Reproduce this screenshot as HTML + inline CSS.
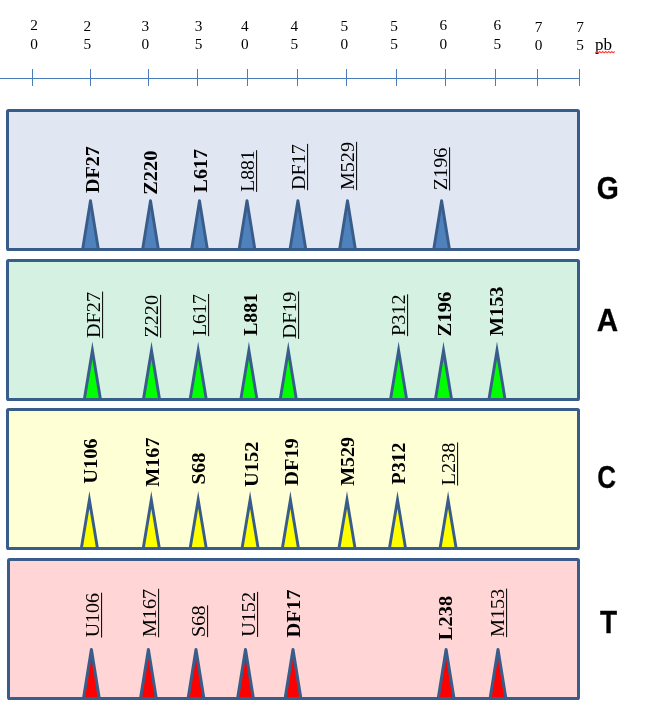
<!DOCTYPE html>
<html><head><meta charset="utf-8"><title>pb</title><style>
html,body{margin:0;padding:0;background:#fff;width:645px;height:723px;overflow:hidden}
svg{display:block}
.ax{font-family:"Liberation Serif",serif;font-size:15.3px;fill:#000}
.pb{font-family:"Liberation Serif",serif;font-size:17px;fill:#000}
.lb{font-family:"Liberation Serif",serif;font-weight:bold;fill:#000}
.lr{font-family:"Liberation Serif",serif;fill:#000}
.big{font-family:"Liberation Sans",sans-serif;font-weight:bold;fill:#000;stroke:#000;stroke-width:0.3px}
</style></head><body>
<svg width="645" height="723" viewBox="0 0 645 723">
<rect x="7.5" y="110.5" width="571" height="139" fill="#E0E6F2" stroke="#385D8A" stroke-width="3" rx="1"/>
<rect x="7.5" y="260.5" width="571" height="139" fill="#D5F1E1" stroke="#385D8A" stroke-width="3" rx="1"/>
<rect x="7.5" y="409.5" width="571" height="139" fill="#FFFFD5" stroke="#385D8A" stroke-width="3" rx="1"/>
<rect x="8.5" y="559.5" width="570" height="139" fill="#FFD5D5" stroke="#385D8A" stroke-width="3" rx="1"/>
<path d="M0 78.5H579.5" stroke="#4A7EBB" stroke-width="1" fill="none"/>
<path d="M32.5 69V86M90.5 69V86M148.5 69V86M197.5 69V86M247.5 69V86M297.5 69V86M346.5 69V86M396.5 69V86M445.5 69V86M495.5 69V86M537.5 69V86M579.5 69V86" stroke="#4A7EBB" stroke-width="1" fill="none"/>
<text x="30.20" y="29.64" class="ax">2</text>
<text x="30.20" y="48.64" class="ax">0</text>
<text x="83.60" y="31.14" class="ax">2</text>
<text x="83.60" y="49.24" class="ax">5</text>
<text x="141.50" y="30.64" class="ax">3</text>
<text x="141.50" y="49.24" class="ax">0</text>
<text x="194.80" y="30.64" class="ax">3</text>
<text x="194.80" y="49.24" class="ax">5</text>
<text x="240.90" y="30.64" class="ax">4</text>
<text x="240.90" y="49.24" class="ax">0</text>
<text x="290.50" y="30.64" class="ax">4</text>
<text x="290.50" y="49.24" class="ax">5</text>
<text x="340.60" y="30.64" class="ax">5</text>
<text x="340.60" y="49.24" class="ax">0</text>
<text x="390.20" y="30.64" class="ax">5</text>
<text x="390.20" y="49.24" class="ax">5</text>
<text x="439.60" y="30.44" class="ax">6</text>
<text x="439.60" y="49.24" class="ax">0</text>
<text x="493.60" y="30.44" class="ax">6</text>
<text x="493.60" y="49.24" class="ax">5</text>
<text x="534.80" y="31.54" class="ax">7</text>
<text x="534.80" y="50.44" class="ax">0</text>
<text x="576.20" y="31.54" class="ax">7</text>
<text x="576.20" y="50.44" class="ax">5</text>
<text x="595" y="50.3" class="pb">pb</text>
<polyline points="595.2,52.9 596.7,51.5 598.2,52.9 599.7,51.5 601.2,52.9 602.7,51.5 604.2,52.9 605.7,51.5 607.2,52.9 608.7,51.5 610.2,52.9 611.7,51.5 613.2,52.9 614.7,51.5" fill="none" stroke="#FF3C3C" stroke-width="1.05"/>
<polygon points="82.60,249.5 90.50,200.75 98.40,249.5" fill="#4F81BD" stroke="#385D8A" stroke-width="2.9" stroke-linejoin="round" stroke-miterlimit="40"/>
<polygon points="142.60,249.5 150.50,200.75 158.40,249.5" fill="#4F81BD" stroke="#385D8A" stroke-width="2.9" stroke-linejoin="round" stroke-miterlimit="40"/>
<polygon points="191.60,249.5 199.50,200.75 207.40,249.5" fill="#4F81BD" stroke="#385D8A" stroke-width="2.9" stroke-linejoin="round" stroke-miterlimit="40"/>
<polygon points="239.10,249.5 247.00,200.75 254.90,249.5" fill="#4F81BD" stroke="#385D8A" stroke-width="2.9" stroke-linejoin="round" stroke-miterlimit="40"/>
<polygon points="290.00,249.5 297.90,200.75 305.80,249.5" fill="#4F81BD" stroke="#385D8A" stroke-width="2.9" stroke-linejoin="round" stroke-miterlimit="40"/>
<polygon points="339.60,249.5 347.50,200.75 355.40,249.5" fill="#4F81BD" stroke="#385D8A" stroke-width="2.9" stroke-linejoin="round" stroke-miterlimit="40"/>
<polygon points="433.70,249.5 441.60,200.75 449.50,249.5" fill="#4F81BD" stroke="#385D8A" stroke-width="2.9" stroke-linejoin="round" stroke-miterlimit="40"/>
<polygon points="84.30,399.5 92.40,350.49 100.50,399.5" fill="#00FF00" stroke="#385D8A" stroke-width="2.9" stroke-linejoin="miter" stroke-miterlimit="40"/>
<polygon points="143.40,399.5 151.50,350.49 159.60,399.5" fill="#00FF00" stroke="#385D8A" stroke-width="2.9" stroke-linejoin="miter" stroke-miterlimit="40"/>
<polygon points="190.10,399.5 198.20,350.49 206.30,399.5" fill="#00FF00" stroke="#385D8A" stroke-width="2.9" stroke-linejoin="miter" stroke-miterlimit="40"/>
<polygon points="240.80,399.5 248.90,350.49 257.00,399.5" fill="#00FF00" stroke="#385D8A" stroke-width="2.9" stroke-linejoin="miter" stroke-miterlimit="40"/>
<polygon points="280.20,399.5 288.30,350.49 296.40,399.5" fill="#00FF00" stroke="#385D8A" stroke-width="2.9" stroke-linejoin="miter" stroke-miterlimit="40"/>
<polygon points="390.50,399.5 398.60,350.49 406.70,399.5" fill="#00FF00" stroke="#385D8A" stroke-width="2.9" stroke-linejoin="miter" stroke-miterlimit="40"/>
<polygon points="435.40,399.5 443.50,350.49 451.60,399.5" fill="#00FF00" stroke="#385D8A" stroke-width="2.9" stroke-linejoin="miter" stroke-miterlimit="40"/>
<polygon points="488.90,399.5 497.00,350.49 505.10,399.5" fill="#00FF00" stroke="#385D8A" stroke-width="2.9" stroke-linejoin="miter" stroke-miterlimit="40"/>
<polygon points="81.30,548.5 89.40,499.83 97.50,548.5" fill="#FFFF00" stroke="#385D8A" stroke-width="2.9" stroke-linejoin="miter" stroke-miterlimit="40"/>
<polygon points="143.20,548.5 151.30,499.83 159.40,548.5" fill="#FFFF00" stroke="#385D8A" stroke-width="2.9" stroke-linejoin="miter" stroke-miterlimit="40"/>
<polygon points="190.10,548.5 198.20,499.83 206.30,548.5" fill="#FFFF00" stroke="#385D8A" stroke-width="2.9" stroke-linejoin="miter" stroke-miterlimit="40"/>
<polygon points="242.00,548.5 250.10,499.83 258.20,548.5" fill="#FFFF00" stroke="#385D8A" stroke-width="2.9" stroke-linejoin="miter" stroke-miterlimit="40"/>
<polygon points="282.30,548.5 290.40,499.83 298.50,548.5" fill="#FFFF00" stroke="#385D8A" stroke-width="2.9" stroke-linejoin="miter" stroke-miterlimit="40"/>
<polygon points="338.90,548.5 347.00,499.83 355.10,548.5" fill="#FFFF00" stroke="#385D8A" stroke-width="2.9" stroke-linejoin="miter" stroke-miterlimit="40"/>
<polygon points="389.40,548.5 397.50,499.83 405.60,548.5" fill="#FFFF00" stroke="#385D8A" stroke-width="2.9" stroke-linejoin="miter" stroke-miterlimit="40"/>
<polygon points="440.00,548.5 448.10,499.83 456.20,548.5" fill="#FFFF00" stroke="#385D8A" stroke-width="2.9" stroke-linejoin="miter" stroke-miterlimit="40"/>
<polygon points="83.50,698.5 91.40,649.50 99.30,698.5" fill="#FF0000" stroke="#385D8A" stroke-width="3.0" stroke-linejoin="round" stroke-miterlimit="40"/>
<polygon points="140.50,698.5 148.40,649.50 156.30,698.5" fill="#FF0000" stroke="#385D8A" stroke-width="3.0" stroke-linejoin="round" stroke-miterlimit="40"/>
<polygon points="188.10,698.5 196.00,649.50 203.90,698.5" fill="#FF0000" stroke="#385D8A" stroke-width="3.0" stroke-linejoin="round" stroke-miterlimit="40"/>
<polygon points="237.60,698.5 245.50,649.50 253.40,698.5" fill="#FF0000" stroke="#385D8A" stroke-width="3.0" stroke-linejoin="round" stroke-miterlimit="40"/>
<polygon points="285.10,698.5 293.00,649.50 300.90,698.5" fill="#FF0000" stroke="#385D8A" stroke-width="3.0" stroke-linejoin="round" stroke-miterlimit="40"/>
<polygon points="438.20,698.5 446.10,649.50 454.00,698.5" fill="#FF0000" stroke="#385D8A" stroke-width="3.0" stroke-linejoin="round" stroke-miterlimit="40"/>
<polygon points="490.10,698.5 498.00,649.50 505.90,698.5" fill="#FF0000" stroke="#385D8A" stroke-width="3.0" stroke-linejoin="round" stroke-miterlimit="40"/>
<path d="M7 249.5H579" stroke="#385D8A" stroke-width="3"/>
<path d="M7 399.5H579" stroke="#385D8A" stroke-width="3"/>
<path d="M7 548.5H579" stroke="#385D8A" stroke-width="3"/>
<path d="M8 698.5H579" stroke="#385D8A" stroke-width="3"/>
<text transform="translate(99,192.88) scale(0.95,1) rotate(-90)" class="lb" style="font-size:20.06px">DF27</text>
<text transform="translate(157,194.80) scale(0.95,1) rotate(-90)" class="lb" style="font-size:20.48px">Z220</text>
<text transform="translate(207,192.48) scale(0.95,1) rotate(-90)" class="lb" style="font-size:20.12px">L617</text>
<text transform="translate(254,191.71) scale(0.95,1) rotate(-90)" class="lr" style="font-size:19.59px">L881</text>
<path d="M256.60 191.91V150.16" stroke="#000" stroke-width="1" fill="none"/>
<text transform="translate(305,190.04) scale(0.95,1) rotate(-90)" class="lr" style="font-size:20.18px">DF17</text>
<path d="M307.60 190.24V143.86" stroke="#000" stroke-width="1" fill="none"/>
<text transform="translate(354,190.04) scale(0.95,1) rotate(-90)" class="lr" style="font-size:20.09px">M529</text>
<path d="M356.60 190.24V141.84" stroke="#000" stroke-width="1" fill="none"/>
<text transform="translate(447,190.26) scale(0.95,1) rotate(-90)" class="lr" style="font-size:20.25px">Z196</text>
<path d="M449.60 190.46V147.32" stroke="#000" stroke-width="1" fill="none"/>
<text transform="translate(100,338.11) scale(0.95,1) rotate(-90)" class="lr" style="font-size:20.32px">DF27</text>
<path d="M102.60 338.31V291.61" stroke="#000" stroke-width="1" fill="none"/>
<text transform="translate(158,337.51) scale(0.95,1) rotate(-90)" class="lr" style="font-size:20.12px">Z220</text>
<path d="M160.60 337.71V294.84" stroke="#000" stroke-width="1" fill="none"/>
<text transform="translate(206,335.99) scale(0.95,1) rotate(-90)" class="lr" style="font-size:19.81px">L617</text>
<path d="M208.60 336.19V293.97" stroke="#000" stroke-width="1" fill="none"/>
<text transform="translate(257,335.86) scale(0.95,1) rotate(-90)" class="lb" style="font-size:19.78px">L881</text>
<text transform="translate(296,338.71) scale(0.95,1) rotate(-90)" class="lr" style="font-size:20.65px">DF19</text>
<path d="M298.60 338.91V291.46" stroke="#000" stroke-width="1" fill="none"/>
<text transform="translate(405,336.01) scale(0.95,1) rotate(-90)" class="lr" style="font-size:20.18px">P312</text>
<path d="M407.60 336.21V294.32" stroke="#000" stroke-width="1" fill="none"/>
<text transform="translate(451,336.41) scale(0.95,1) rotate(-90)" class="lb" style="font-size:20.67px">Z196</text>
<text transform="translate(503,336.03) scale(0.95,1) rotate(-90)" class="lb" style="font-size:20.29px">M153</text>
<text transform="translate(97,483.85) scale(0.95,1) rotate(-90)" class="lb" style="font-size:20.45px">U106</text>
<text transform="translate(159,486.80) scale(0.95,1) rotate(-90)" class="lb" style="font-size:20.18px">M167</text>
<text transform="translate(205,484.41) scale(0.95,1) rotate(-90)" class="lb" style="font-size:20.43px">S68</text>
<text transform="translate(258,487.06) scale(0.95,1) rotate(-90)" class="lb" style="font-size:20.49px">U152</text>
<text transform="translate(298,485.82) scale(0.95,1) rotate(-90)" class="lb" style="font-size:20.42px">DF19</text>
<text transform="translate(354,485.82) scale(0.95,1) rotate(-90)" class="lb" style="font-size:20.04px">M529</text>
<text transform="translate(405,484.48) scale(0.95,1) rotate(-90)" class="lb" style="font-size:19.83px">P312</text>
<text transform="translate(455,485.38) scale(0.95,1) rotate(-90)" class="lr" style="font-size:20.26px">L238</text>
<path d="M457.60 485.58V442.41" stroke="#000" stroke-width="1" fill="none"/>
<text transform="translate(99,637.32) scale(0.95,1) rotate(-90)" class="lr" style="font-size:20.00px">U106</text>
<path d="M101.60 637.52V592.68" stroke="#000" stroke-width="1" fill="none"/>
<text transform="translate(156,637.11) scale(0.95,1) rotate(-90)" class="lr" style="font-size:20.17px">M167</text>
<path d="M158.60 637.31V588.72" stroke="#000" stroke-width="1" fill="none"/>
<text transform="translate(205,636.91) scale(0.95,1) rotate(-90)" class="lr" style="font-size:20.18px">S68</text>
<path d="M207.60 637.11V605.31" stroke="#000" stroke-width="1" fill="none"/>
<text transform="translate(255,636.72) scale(0.95,1) rotate(-90)" class="lr" style="font-size:20.10px">U152</text>
<path d="M257.60 636.92V591.85" stroke="#000" stroke-width="1" fill="none"/>
<text transform="translate(300,637.42) scale(0.95,1) rotate(-90)" class="lb" style="font-size:20.55px">DF17</text>
<text transform="translate(452,640.20) scale(0.95,1) rotate(-90)" class="lb" style="font-size:20.45px">L238</text>
<text transform="translate(504,636.99) scale(0.95,1) rotate(-90)" class="lr" style="font-size:20.18px">M153</text>
<path d="M506.60 637.19V588.58" stroke="#000" stroke-width="1" fill="none"/>
<text transform="translate(596.65,198.60) scale(0.929,1)" class="big" style="font-size:30.5px">G</text>
<text transform="translate(596.65,331.00) scale(0.972,1)" class="big" style="font-size:30.5px">A</text>
<text transform="translate(597.24,488.00) scale(0.851,1)" class="big" style="font-size:30.5px">C</text>
<text transform="translate(600.00,633.00) scale(0.917,1)" class="big" style="font-size:30.5px">T</text>
</svg>
</body></html>
